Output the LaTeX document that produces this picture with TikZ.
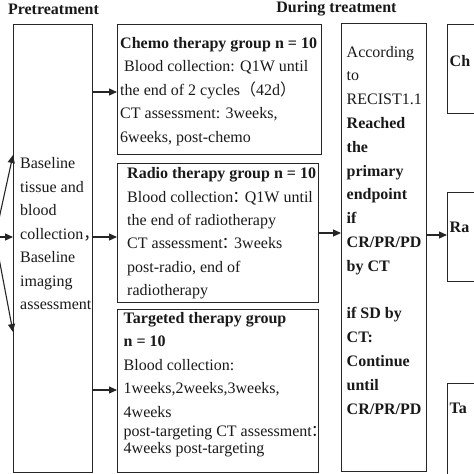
\documentclass[tikz,border=0pt]{standalone}
\usepackage{fontspec}
\setmainfont{Liberation Serif}
\newfontfamily\cjkf{Noto Sans CJK SC}
\usetikzlibrary{arrows.meta}
\newcommand{\wcolon}{\hspace{-1pt}{\cjkf ：}\hspace{-3.5pt}}
\begin{document}
\begin{tikzpicture}[x=1pt,y=-1pt,
  box/.style={draw=black!85, line width=1.1pt, rectangle, inner sep=0pt, anchor=north west},
  txt/.style={anchor=north west, inner sep=0pt, align=left, text=black!90, font=\fontsize{16}{23.5}\selectfont},
  hdr/.style={anchor=base, inner sep=0pt, text=black!90, font=\fontsize{16}{19}\selectfont\bfseries},
  arr/.style={draw=black!85, line width=1.1pt, -{Triangle[length=8pt,width=7pt]}}
]
\useasboundingbox (0,0) rectangle (474,474);
\clip (0,0) rectangle (474,474);

% boxes
\node[box, minimum width=79pt, minimum height=448pt] (pre) at (13,24) {};
\node[box, minimum width=204pt, minimum height=130pt] (chemo) at (117,24) {};
\node[box, minimum width=201pt, minimum height=139pt] (radio) at (117,163) {};
\node[box, minimum width=201pt, minimum height=163pt] (target) at (117,309) {};
\node[box, minimum width=85pt, minimum height=448pt] (recist) at (341,23) {};
\node[box, minimum width=45pt, minimum height=89pt] (ch) at (447,24) {};
\node[box, minimum width=45pt, minimum height=89pt] (ra) at (447,192) {};
\node[box, minimum width=45pt, minimum height=100pt] (ta) at (447,383) {};

% headers
\node[hdr] (h1) at (53.5,14) {Pretreatment};
\node[hdr] (h2) at (336.5,12) {During treatment};

% texts
\node[txt] (pretxt) at (20,157.4) {Baseline\\tissue and\\blood\\collection{\cjkf ，}\\Baseline\\imaging\\assessment};

\node[txt] (chemotxt) at (120,36.8) {\textbf{Chemo therapy group n = 10}\\\hspace*{4pt}Blood collection: Q1W until\\the end of 2 cycles{\cjkf （}42d{\cjkf ）}\\CT assessment: 3weeks,\\6weeks, post-chemo};

\node[txt, font=\fontsize{16}{23.4}\selectfont] (radiotxt) at (127,167.4) {\textbf{Radio therapy group n = 10}\\Blood collection\wcolon Q1W until\\the end of radiotherapy\\CT assessment\wcolon 3weeks\\post-radio, end of\\radiotherapy};

\node[txt] (targettxt) at (123.5,312.1) {\textbf{Targeted therapy group}\\\textbf{n = 10}\\Blood collection:\\1weeks,2weeks,3weeks,\\4weeks\\[-4pt]post-targeting CT assessment\wcolon\\[-7pt]4weeks post-targeting};

\node[txt, font=\fontsize{16}{23.8}\selectfont] (recisttxt) at (346.5,45.8) {According\\to\\RECIST1.1\\\textbf{Reached}\\\textbf{the}\\\textbf{primary}\\\textbf{endpoint}\\\textbf{if}\\\textbf{CR/PR/PD}\\\textbf{by CT}\\[23.8pt]\textbf{if SD by}\\\textbf{CT:}\\\textbf{Continue}\\\textbf{until}\\\textbf{CR/PR/PD}};

\node[hdr, anchor=base west] (chtxt) at (449.5,66) {Ch};
\node[hdr, anchor=base west] (ratxt) at (449.5,232) {Ra};
\node[hdr, anchor=base west] (tatxt) at (449.5,413) {Ta};

% arrows
\coordinate (src) at (-5,237);
\draw[arr] (src) -- (pre.west |- 0,155);
\draw[arr] (src) -- (pre.west |- 0,237);
\draw[arr] (src) -- (pre.west |- 0,332);
\draw[arr] (pre.east |- 0,92) -- (chemo.west |- 0,92);
\draw[arr] (pre.east |- 0,237) -- (radio.west |- 0,237);
\draw[arr] (pre.east |- 0,390) -- (target.west |- 0,390);
\draw[arr] (radio.east |- 0,233) -- (recist.west |- 0,233);
\draw[arr] (recist.east |- 0,235) -- (ra.west |- 0,235);
\end{tikzpicture}
\end{document}
